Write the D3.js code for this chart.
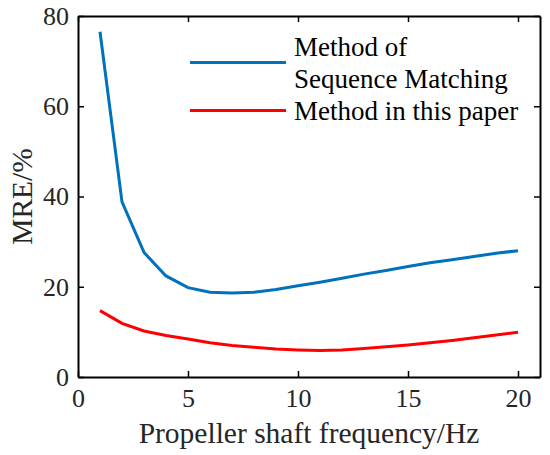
<!DOCTYPE html>
<html lang="en">
  <head>
    <meta charset="utf-8">
    <title>MRE vs propeller shaft frequency</title>
    <script src="https://cdn.jsdelivr.net/npm/d3@7"></script>
    <style>
      body { margin: 0; background: #fff; }
    </style>
  </head>
  <body>
    <script>

      // values
      var freq = [1, 2, 3, 4, 5, 6, 7, 8, 9, 10, 11, 12, 13, 14, 15, 16, 17, 18, 19, 20];
      var seqMatching = [76.5, 38.8, 27.6, 22.4, 19.8, 18.8, 18.6, 18.8, 19.4, 20.2, 21.0, 21.9, 22.8, 23.6, 24.5, 25.3, 26.0, 26.7, 27.4, 28.0];
      var thisPaper = [14.7, 11.9, 10.2, 9.2, 8.4, 7.6, 7.0, 6.6, 6.2, 6.0, 5.9, 6.0, 6.3, 6.7, 7.1, 7.6, 8.1, 8.7, 9.3, 9.9];
      var seriesNames = ["Method of|Sequence Matching", "Method in this paper"];
      var seriesColors = ["#0072BD", "#FF0000"];
      var xTicks = [0, 5, 10, 15, 20];
      var yTicks = [0, 20, 40, 60, 80];

      var W = 550, H = 455;
      var m = {left: 78, top: 16, right: 10, bottom: 78};
      var FONT = "Liberation Serif";

      var svg = d3.select("body").append("svg")
                  .attr("width", W)
                  .attr("height", H)
                  .attr("font-family", FONT);

      var x = d3.scaleLinear().domain([0, 21]).range([m.left, W - m.right]);
      var y = d3.scaleLinear().domain([0, 80]).range([H - m.bottom, m.top]);

      var tickCol = "#262626";

      // box with inward ticks on all sides (matlab style)
      svg.append("g").attr("transform", "translate(0," + y(0) + ")")
         .call(d3.axisBottom(x).tickValues(xTicks).tickSizeInner(-6).tickSizeOuter(0).tickPadding(12));
      svg.append("g").attr("transform", "translate(0," + y(80) + ")")
         .call(d3.axisTop(x).tickValues(xTicks).tickSizeInner(-6).tickSizeOuter(0).tickFormat(""));
      svg.append("g").attr("transform", "translate(" + x(0) + ",0)")
         .call(d3.axisLeft(y).tickValues(yTicks).tickSizeInner(-6).tickSizeOuter(0).tickPadding(9));
      svg.append("g").attr("transform", "translate(" + x(21) + ",0)")
         .call(d3.axisRight(y).tickValues(yTicks).tickSizeInner(-6).tickSizeOuter(0).tickFormat(""));

      svg.selectAll("g").attr("font-family", FONT).attr("font-size", 26);
      svg.selectAll(".tick text").attr("fill", tickCol);
      svg.selectAll(".domain").attr("stroke", "#000").attr("stroke-width", 2);
      svg.selectAll(".tick line").attr("stroke", "#000").attr("stroke-width", 1.5);

      var line = d3.line()
                   .x(function(d, i) { return x(freq[i]); })
                   .y(function(d) { return y(d); });

      [seqMatching, thisPaper].forEach(function(s, k) {
        svg.append("path")
           .attr("d", line(s))
           .attr("fill", "none")
           .attr("stroke", seriesColors[k])
           .attr("stroke-width", 3);
      });

      // legend
      var legY = [62.5, 110.5];
      seriesNames.forEach(function(name, k) {
        svg.append("line")
           .attr("x1", 190).attr("x2", 286)
           .attr("y1", legY[k]).attr("y2", legY[k])
           .attr("stroke", seriesColors[k]).attr("stroke-width", 3);
        var parts = name.split("|");
        var t = svg.append("text").attr("font-family", FONT).attr("font-size", 27).attr("fill", "#000");
        if (parts.length == 2) {
          t.append("tspan").attr("x", 294).attr("y", 56).text(parts[0]);
          t.append("tspan").attr("x", 294).attr("y", 88).text(parts[1]);
        } else {
          t.attr("x", 294).attr("y", 120).text(parts[0]);
        }
      });

      // axis labels
      svg.append("text")
         .attr("x", (x(0) + x(21)) / 2).attr("y", 443)
         .attr("text-anchor", "middle").attr("font-size", 29.5).attr("fill", tickCol)
         .text("Propeller shaft frequency/Hz");
      svg.append("text")
         .attr("transform", "translate(32," + ((y(0) + y(80)) / 2) + ") rotate(-90)")
         .attr("text-anchor", "middle").attr("font-size", 29.5).attr("fill", tickCol)
         .text("MRE/%");
    </script>
  </body>
</html>
